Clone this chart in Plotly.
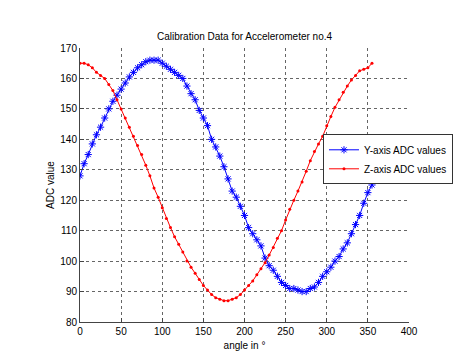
import plotly.graph_objects as go

angles = list(range(0, 360, 5))

y_axis_adc = [128, 132, 135, 138.5, 141.5, 144, 147, 150, 152.5, 154.5,
              156.5, 158.5, 160.5, 162, 163.5, 164.5, 165.5, 166, 166, 166,
              165, 164, 163, 162, 161, 160, 157.5, 155, 153, 149.5,
              147, 144.5, 140, 137.5, 134.5, 131, 127, 123, 121, 118,
              115, 111, 109, 107, 105, 101, 98.5, 97, 95, 93,
              92, 91, 91, 90.5, 90, 90, 91, 91.5, 93, 95,
              96.5, 98, 100, 101.5, 104, 106, 109, 112, 115, 119,
              122.5, 125]

z_axis_adc = [165, 165, 164.5, 163.5, 162, 161, 160, 158, 156, 153,
              150, 147, 144, 141, 138, 135, 131.5, 128, 124, 121,
              117.5, 114, 111, 108, 105.5, 103, 100, 98, 96, 94,
              92, 90.5, 89, 88, 87.5, 87, 87, 87.5, 88, 89,
              90.5, 92, 93.5, 95.5, 97.5, 99.5, 102, 104.5, 107.5, 110,
              113.5, 117, 120, 123, 126, 129.5, 133, 136, 138.5, 141,
              144.5, 147.5, 150.5, 153, 155.5, 157.5, 159.5, 161, 162.5, 163,
              163.5, 165]

x_ticks = list(range(0, 401, 50))
y_ticks = list(range(80, 171, 10))

FONT = "Liberation Sans, Arial, sans-serif"
FS = 10

fig = go.Figure()
fig.add_trace(go.Scatter(
    x=angles, y=y_axis_adc, mode="lines+markers", name="Y-axis ADC values",
    line=dict(color="#0000ff", width=1),
    marker=dict(symbol="asterisk-open", size=6, color="#0000ff",
                line=dict(color="#0000ff", width=1)),
))
fig.add_trace(go.Scatter(
    x=angles, y=z_axis_adc, mode="lines+markers", name="Z-axis ADC values",
    line=dict(color="#ff0000", width=1),
    marker=dict(symbol="circle", size=3, color="#ff0000"),
))

axis_common = dict(
    showline=True, linecolor="#444", linewidth=1, mirror=False,
    showgrid=True, gridcolor="#666", griddash="dot", gridwidth=1,
    ticks="inside", ticklen=4, tickcolor="#444",
    tickfont=dict(family=FONT, size=FS, color="#000"),
    zeroline=False,
)

fig.update_layout(
    width=474, height=352,
    margin=dict(l=80, r=65, t=48, b=30, autoexpand=False),
    paper_bgcolor="white", plot_bgcolor="white",
    title=dict(text="Calibration Data for Accelerometer no.4",
               x=(80 + 409) / 2 / 474, xanchor="center",
               y=1 - 36 / 352, yanchor="middle",
               font=dict(family=FONT, size=FS, color="#000")),
    xaxis=dict(range=[0, 400], tickvals=x_ticks,
               title=dict(text="angle in °", standoff=5,
                          font=dict(family=FONT, size=FS, color="#000")),
               **axis_common),
    yaxis=dict(range=[80, 170], tickvals=y_ticks,
               title=dict(text="ADC value", standoff=3,
                          font=dict(family=FONT, size=FS, color="#000")),
               **axis_common),
    legend=dict(x=0.7386, y=0.685, xanchor="left", yanchor="top",
                bgcolor="white", bordercolor="#333", borderwidth=1,
                font=dict(family=FONT, size=FS, color="#000"),
                tracegroupgap=0),
    showlegend=True,
)

fig.write_html("out.html")
